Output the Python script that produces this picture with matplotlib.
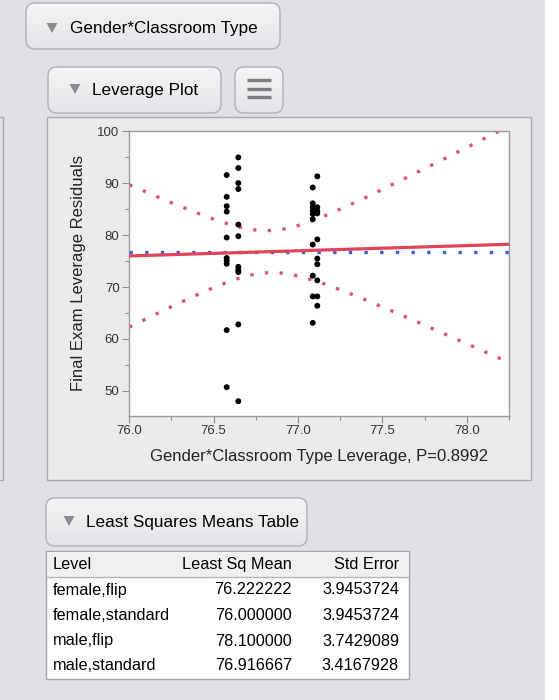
import numpy as np
import matplotlib.pyplot as plt
from matplotlib.patches import FancyBboxPatch, Rectangle, Polygon
from matplotlib.colors import LinearSegmentedColormap

plt.rcParams['font.family'] = ['Liberation Sans', 'DejaVu Sans']

# leverage x of each cell and the points that sit in it
group_x = [76.577, 76.646, 77.087, 77.114]
group_y = [
    [91.6, 87.4, 85.6, 84.55, 79.55, 75.6, 75.1, 74.5, 61.7, 50.7],
    [95.0, 92.95, 90.05, 88.9, 82.05, 79.8, 73.9, 73.3, 72.9, 62.8, 48.0],
    [89.2, 86.15, 85.4, 84.7, 84.1, 83.1, 78.2, 72.2, 68.2, 63.1],
    [91.35, 85.4, 84.7, 84.2, 79.2, 75.5, 74.4, 71.3, 68.2, 66.4],
]
y_mean = 76.8
fit_slope = 1.0
fit_icpt = 0.0
band_x0 = 76.83     # centre of the confidence curves
band_w0 = 4.05      # half width at the centre
band_k = 15.8       # growth of half width per unit of x

# least squares means table
levels = ['female,flip', 'female,standard', 'male,flip', 'male,standard']
ls_means = [76.222222, 76.000000, 78.100000, 76.916667]
std_errs = [3.9453724, 3.9453724, 3.7429089, 3.4167928]

W, H = 559, 700
fig = plt.figure(figsize=(W / 100, H / 100), dpi=100)
fig.patch.set_facecolor('#dfe1e4')

bg = fig.add_axes([0, 0, 1, 1], zorder=0)
bg.set_xlim(0, W)
bg.set_ylim(H, 0)
bg.axis('off')

btn_cmap = LinearSegmentedColormap.from_list('btn', ['#f4f5f6', '#e2e4e7'])


def button(x, y, w, h):
    p = FancyBboxPatch((x, y), w, h, boxstyle='round,pad=0,rounding_size=9',
                       fc='none', ec='#aeb1b5', lw=1, zorder=3)
    bg.add_patch(p)
    grad = np.linspace(0, 1, 60).reshape(-1, 1)
    im = bg.imshow(grad, cmap=btn_cmap, extent=(x, x + w, y + h, y),
                   aspect='auto', zorder=2)
    im.set_clip_path(p)


def triangle(cx, cy, w=11, h=10):
    bg.add_patch(Polygon([[cx - w / 2, cy - h / 2], [cx + w / 2, cy - h / 2], [cx, cy + h / 2]],
                         closed=True, fc='#8a8c8f', ec='none', zorder=4))


# right white strip and the edge of the panel on the left
bg.add_patch(Rectangle((545, 0), 14, H, fc='white', ec='none', zorder=1))
bg.plot([0, 3, 3, 0], [117, 117, 480, 480], color='#a8aaad', lw=1, zorder=1)

# top buttons
button(26, 3, 254, 46)
triangle(52, 28)
bg.text(70, 28.5, 'Gender*Classroom Type', fontsize=12.3, va='center', ha='left', zorder=5)

button(48, 67, 173, 46)
triangle(75, 89)
bg.text(92, 90.5, 'Leverage Plot', fontsize=12.3, va='center', ha='left', zorder=5)

button(235, 67, 48, 46)
for yy in [80, 88.5, 97]:
    bg.plot([247, 271], [yy, yy], color='#7b7d80', lw=2.4, solid_capstyle='butt', zorder=5)

# box round the plot
bg.add_patch(Rectangle((47, 117), 484, 363, fc='#e9ebed', ec='#a9abae', lw=1, zorder=1))

# leverage plot
ax_l, ax_r, ax_t, ax_b = 129.3, 509.0, 130.7, 415.7
ax = fig.add_axes([ax_l / W, 1 - ax_b / H, (ax_r - ax_l) / W, (ax_b - ax_t) / H], zorder=2)
ax.set_facecolor('white')
xlim = (76.0, 78.25)
ax.set_xlim(*xlim)
ax.set_ylim(45.2, 100.15)

xs = np.linspace(xlim[0], xlim[1], 300)
fit = fit_icpt + fit_slope * xs
half = np.sqrt(band_w0 ** 2 + (band_k * (xs - band_x0)) ** 2)
red = '#e0435a'
conf = '#de5273'
ax.plot(xs, fit + half, color=conf, lw=2.4, ls=(0, (1.0, 3.4)), zorder=2)
ax.plot(xs, fit - half, color=conf, lw=2.4, ls=(0, (1.0, 3.4)), zorder=2)
ax.axhline(y_mean, color='#3a5cd6', lw=2.4, ls=(0, (1.0, 3.7)), zorder=3)
ax.plot(xs, fit, color=red, lw=2.3, zorder=3)

for gx, ys in zip(group_x, group_y):
    ax.scatter([gx] * len(ys), ys, s=18, color='black', edgecolors='none', zorder=4)

ax.set_xticks(np.arange(76.0, 78.01, 0.5))
ax.set_xticks(np.arange(76.25, 78.26, 0.5), minor=True)
ax.set_xticklabels(['%.1f' % v for v in np.arange(76.0, 78.01, 0.5)])
ax.set_yticks(np.arange(50, 101, 10))
ax.set_yticks(np.arange(55, 100, 10), minor=True)
ax.tick_params(which='major', length=5, width=0.8, color='#8c8c8c', labelsize=9.5,
               labelcolor='#333333', pad=2)
ax.tick_params(which='minor', length=3, width=0.8, color='#8c8c8c')
for s in ax.spines.values():
    s.set_color('#9a9a9a')
    s.set_linewidth(1)

bg.text(319.5, 456, 'Gender*Classroom Type Leverage, P=0.8992', fontsize=12,
        ha='center', va='center', color='#222222', zorder=5)
bg.text(79, 273, 'Final Exam Leverage Residuals', fontsize=12, rotation=90,
        ha='center', va='center', color='#222222', zorder=5)

# least squares means table
button(46, 498, 261, 48)
triangle(69, 521)
bg.text(86, 522.5, 'Least Squares Means Table', fontsize=12.3, va='center', ha='left', zorder=5)

bg.add_patch(Rectangle((46, 551), 363, 128, fc='white', ec='#a3a5a8', lw=1, zorder=2))
bg.add_patch(Rectangle((46.5, 551.5), 362, 25.5, fc='#eef0f2', ec='none', zorder=2))
bg.plot([46, 409], [577, 577], color='#b3b5b8', lw=1, zorder=3)

tsize = 11.7
bg.text(53, 564.5, 'Level', fontsize=tsize, ha='left', va='center', zorder=5)
bg.text(292, 564.5, 'Least Sq Mean', fontsize=tsize, ha='right', va='center', zorder=5)
bg.text(399, 564.5, 'Std Error', fontsize=tsize, ha='right', va='center', zorder=5)
row_y = [590, 615.5, 641, 665.5]
for ry, lev, m, se in zip(row_y, levels, ls_means, std_errs):
    bg.text(53, ry, lev, fontsize=tsize, ha='left', va='center', zorder=5)
    bg.text(292, ry, '%.6f' % m, fontsize=tsize, ha='right', va='center', zorder=5)
    bg.text(399, ry, '%.7f' % se, fontsize=tsize, ha='right', va='center', zorder=5)

fig.savefig('out.png', dpi=100, facecolor=fig.get_facecolor())
